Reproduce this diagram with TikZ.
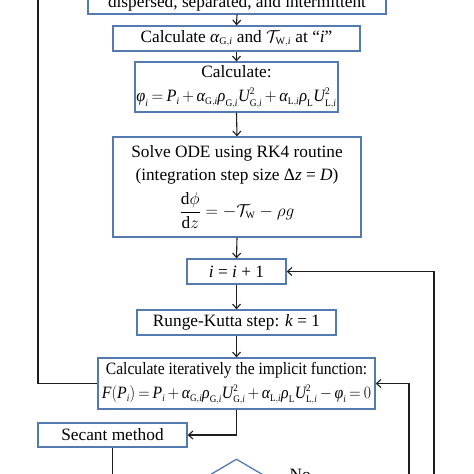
\documentclass[tikz,border=0pt]{standalone}
\usepackage{amsmath}
\usepackage{graphicx}
\usepackage{fontspec}
\setmainfont{Liberation Serif}
\usetikzlibrary{arrows.meta,shapes.geometric}
\DeclareMathSizes{17.3}{17.3}{10}{8}
\definecolor{boxblue}{RGB}{84,122,176}
\definecolor{linegray}{RGB}{30,30,30}
\newcommand{\ti}[1]{\textnormal{\itshape #1}}
\newcommand{\tr}[1]{\textnormal{#1}}
\newcommand{\tightmath}{\medmuskip=3mu\thickmuskip=3.5mu}
\begin{document}
\begin{tikzpicture}[x=1pt,y=-1pt,
  every node/.style={font=\fontsize{17.3}{23}\selectfont},
  flowbox/.style={draw=boxblue,line width=1.3pt,fill=white,inner sep=0pt,align=center},
  conn/.style={draw=linegray,line width=1.1pt},
  arr/.style={conn,-{Straight Barb[length=4.5pt,width=8pt,line width=1.1pt]}}]
\useasboundingbox (0,0) rectangle (474,474);
\clip (0,0) rectangle (474,474);
% top box (cut off)
\node[flowbox,minimum width=298,minimum height=60] (top) at (237,-16) {};
\node[anchor=base] (toptxt) at (237,7) {dispersed, separated, and intermittent};
\node[flowbox,minimum width=247,minimum height=25] (b2) at (236.5,38.5)
  {Calculate $\ti{α}_{\tr{G},\ti{i}}$ and $\mathcal{T}_{\tr{W},\ti{i}}$ at “\textit{i}”};
\node[flowbox,minimum width=203,minimum height=50] (b3) at (236.5,87)
  {Calculate:\\[1pt]
   \scalebox{0.94}[1]{$\tightmath\ti{φ}_{\ti{i}} = \ti{P}_{\ti{i}} + \ti{α}_{\tr{G},\ti{i}}\ti{ρ}_{\tr{G},\ti{i}}\ti{U}^{\tr{2}}_{\tr{G},\ti{i}} + \ti{α}_{\tr{L},\ti{i}}\ti{ρ}_{\tr{L}}\ti{U}^{\tr{2}}_{\tr{L},\ti{i}}$}};
\node[flowbox,minimum width=248,minimum height=100] (b4) at (237,187)
  {Solve ODE using RK4 routine\\
   (integration step size Δ\ti{z} = \ti{D})\\[7pt]
   $\displaystyle\frac{\mathrm{d}\phi}{\mathrm{d}z} = -\mathcal{T}_{\mathrm{W}} - \rho g$};
\node[flowbox,minimum width=99,minimum height=25] (b5) at (236.5,271.5)
  {\ti{i} = \ti{i} + 1};
\node[flowbox,minimum width=199,minimum height=25] (b6) at (236.5,322.5)
  {Runge-Kutta step: \ti{k} = 1};
\node[flowbox,minimum width=277,minimum height=51] (b7) at (236.5,383.5)
  {\scalebox{0.9}[1]{Calculate iteratively the implicit function:}\\[1pt]
   \scalebox{0.91}[1]{$\tightmath\ti{F}(\ti{P}_{\ti{i}}) = \ti{P}_{\ti{i}} + \ti{α}_{\tr{G},\ti{i}}\ti{ρ}_{\tr{G},\ti{i}}\ti{U}^{\tr{2}}_{\tr{G},\ti{i}} + \ti{α}_{\tr{L},\ti{i}}\ti{ρ}_{\tr{L}}\ti{U}^{\tr{2}}_{\tr{L},\ti{i}} - \ti{φ}_{\ti{i}} = 0$}};
\node[flowbox,minimum width=149,minimum height=24] (sec) at (112.5,435)
  {Secant method};
\node[draw=boxblue,line width=1.3pt,shape=diamond,inner sep=0pt,minimum width=180,minimum height=106] (dec) at (236.5,512) {};
\node[anchor=base west] (no) at (286,480) {No};
% free ends
\coordinate (lt) at (38,-20);
\coordinate (r1) at (434,500);
\coordinate (r2) at (409,500);
\coordinate (sb) at (112.5,500);
% connectors
\draw[arr] (top.south) -- (b2.north);
\draw[arr] (b2.south) -- (b3.north);
\draw[arr] (b3.south) -- (b4.north);
\draw[arr] (b4.south) -- (b5.north);
\draw[arr] (b5.south) -- (b6.north);
\draw[arr] (b6.south) -- (b7.north);
\draw[arr] (b7.south) |- (sec.east);
\draw[conn] (b7.west) -| (lt);
\draw[arr] (r1) |- (b5.east);
\draw[arr] (r2) |- (b7.east);
\draw[conn] (sec.south) -- (sb);
\end{tikzpicture}
\end{document}
